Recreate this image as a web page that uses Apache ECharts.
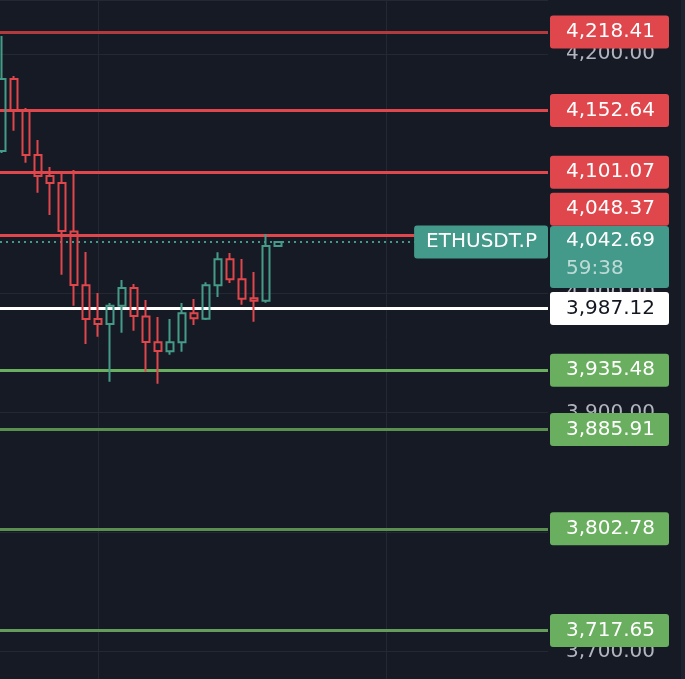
<!DOCTYPE html>
<html>
<head>
<meta charset="utf-8">
<script src="https://cdn.jsdelivr.net/npm/echarts@6/dist/echarts.min.js"></script>
<style>
  html, body { margin: 0; padding: 0; background: #161a25; }
  #main { width: 685px; height: 679px; }
</style>
</head>
<body>
<div id="main"></div>
<script>
  // hollow candles, oldest first
  const opens  = [4118.9, 4179.1, 4152.5, 4115.5, 4097.9, 4092.1, 4051.6, 4006.5, 3978.3, 3974.1, 3989.4, 4004.2,
                  3980.4, 3958.8, 3951.3, 3958.8, 3983.1, 3978.6, 4006.5, 4028.3, 4011.5, 3995.6, 3993.6, 4039.4]
  const closes = [4179.1, 4153.2, 4115.5, 4097.9, 4092.1, 4051.9, 4006.8, 3978.3, 3974.1, 3989.4, 4004.2, 3980.8,
                  3959.1, 3951.6, 3958.8, 3983.1, 3978.9, 4006.5, 4028.3, 4011.5, 3995.3, 3993.6, 4039.4, 4042.69]
  const lows   = [4117.2, 4135.8, 4109.1, 4084.0, 4065.3, 4015.4, 3989.4, 3957.4, 3963.5, 3925.9, 3966.9, 3968.5,
                  3934.2, 3924.2, 3948.5, 3951.0, 3973.3, 3977.5, 3996.7, 4008.4, 3990.3, 3976.1, 3992.0, 4039.0]
  const highs  = [4215.1, 4181.6, 4154.8, 4128.1, 4105.5, 4099.6, 4103.0, 4034.4, 4000.1, 3991.7, 4010.9, 4007.6,
                  3994.2, 3980.0, 3978.3, 3991.7, 3995.0, 4009.0, 4034.1, 4033.5, 4028.5, 4017.6, 4049.4, 4043.6]

  const resistance = [4218.41, 4152.64, 4101.07, 4048.37]
  const pivot = 3987.12
  const support = [3935.48, 3885.91, 3802.78, 3717.65]
  const lastPrice = 4042.69
  const countdown = '59:38'
  const symbol = 'ETHUSDT.P'
  const gridBars = [8, 32] // bars with a vertical grid line

  // [bar index, open, close, low, high]
  const candles = opens.map((o, i) => [i, o, closes[i], lows[i], highs[i]])

  const FONT = 'DejaVu Sans'
  const RED = '#e0474c'
  const GREEN = '#6aaf5f'
  const TEAL = '#43998a'
  const fmt = (v) => v.toLocaleString('en-US', { minimumFractionDigits: 2, maximumFractionDigits: 2 })

  function priceLabel(bg, color, extra) {
    return Object.assign({
      show: true,
      position: 'end',
      distance: 2,
      formatter: (p) => fmt(p.value),
      backgroundColor: bg,
      color: color,
      fontFamily: FONT,
      fontSize: 20,
      lineHeight: 23,
      width: 92,
      align: 'left',
      padding: [5, 11, 5, 16],
      borderRadius: 3
    }, extra || {})
  }

  const resColors = ['#b23a3d', RED, RED, RED]
  const supColors = [GREEN, '#5b8f50', '#5b8f50', '#649d59']

  const levels = []
  gridBars.forEach((b) => {
    levels.push({ xAxis: b, lineStyle: { color: '#242833', width: 1, type: 'solid' }, label: { show: false } })
  })
  resistance.forEach((v, i) => {
    levels.push({
      yAxis: v,
      lineStyle: { color: resColors[i], width: 3, type: 'solid' },
      label: priceLabel(RED, '#ffffff', i === 3 ? { offset: [0, -26] } : null)
    })
  })
  levels.push({ yAxis: pivot, lineStyle: { color: '#ffffff', width: 3, type: 'solid' }, label: priceLabel('#ffffff', '#131722') })
  support.forEach((v, i) => {
    levels.push({
      yAxis: v,
      lineStyle: { color: supColors[i], width: 3, type: 'solid' },
      label: priceLabel(GREEN, '#ffffff')
    })
  })
  // last price: dotted line with symbol tag + price/countdown box
  levels.push({
    yAxis: lastPrice,
    lineStyle: { color: TEAL, width: 2, type: [2, 4] },
    label: {
      show: true,
      position: 'insideEnd',
      distance: 0,
      formatter: symbol,
      backgroundColor: TEAL,
      color: '#ffffff',
      fontFamily: FONT,
      fontSize: 20,
      lineHeight: 23,
      padding: [5, 11, 5, 12],
      borderRadius: 3
    }
  })
  levels.push({
    yAxis: lastPrice,
    lineStyle: { color: 'transparent', width: 1, type: 'solid' },
    label: priceLabel(TEAL, '#ffffff', {
      formatter: '{p|' + fmt(lastPrice) + '}\n{t|' + countdown + '}',
      lineHeight: 28,
      padding: [1, 11, 5, 16],
      offset: [0, 15],
      rich: {
        p: { color: '#ffffff', fontFamily: FONT, fontSize: 20, lineHeight: 28 },
        t: { color: 'rgba(255,255,255,0.65)', fontFamily: FONT, fontSize: 20, lineHeight: 28 }
      }
    })
  })

  const myChart = echarts.init(document.getElementById('main'))
  myChart.setOption({
    backgroundColor: '#161a25',
    animation: false,
    grid: { left: 0, top: 0, right: 137, bottom: 0, containLabel: false },
    xAxis: {
      type: 'value',
      min: -0.17,
      max: 45.5,
      axisLine: { show: false },
      axisTick: { show: false },
      axisLabel: { show: false },
      splitLine: { show: false }
    },
    yAxis: {
      type: 'value',
      position: 'right',
      min: 3677.16,
      max: 4245.17,
      splitNumber: 6,
      axisLine: { show: false },
      axisTick: { show: false },
      axisLabel: {
        color: '#b2b5be',
        fontFamily: FONT,
        fontSize: 20,
        margin: 18,
        showMinLabel: false,
        showMaxLabel: false,
        formatter: fmt
      },
      splitLine: { lineStyle: { color: '#242833', width: 1 } }
    },
    graphic: [{ type: 'rect', right: 0, top: 0, shape: { width: 4, height: 679 }, style: { fill: '#1f2330' } }],
    series: [{
      type: 'candlestick',
      data: candles,
      encode: { x: 0, y: [1, 2, 3, 4] },
      barWidth: 7.5,
      z: 3,
      itemStyle: {
        color: 'transparent',
        color0: 'transparent',
        borderColor: '#459b87',
        borderColor0: RED,
        borderWidth: 2
      },
      markLine: {
        z: 1,
        silent: true,
        symbol: ['none', 'none'],
        animation: false,
        data: levels
      }
    }]
  })
</script>
</body>
</html>
